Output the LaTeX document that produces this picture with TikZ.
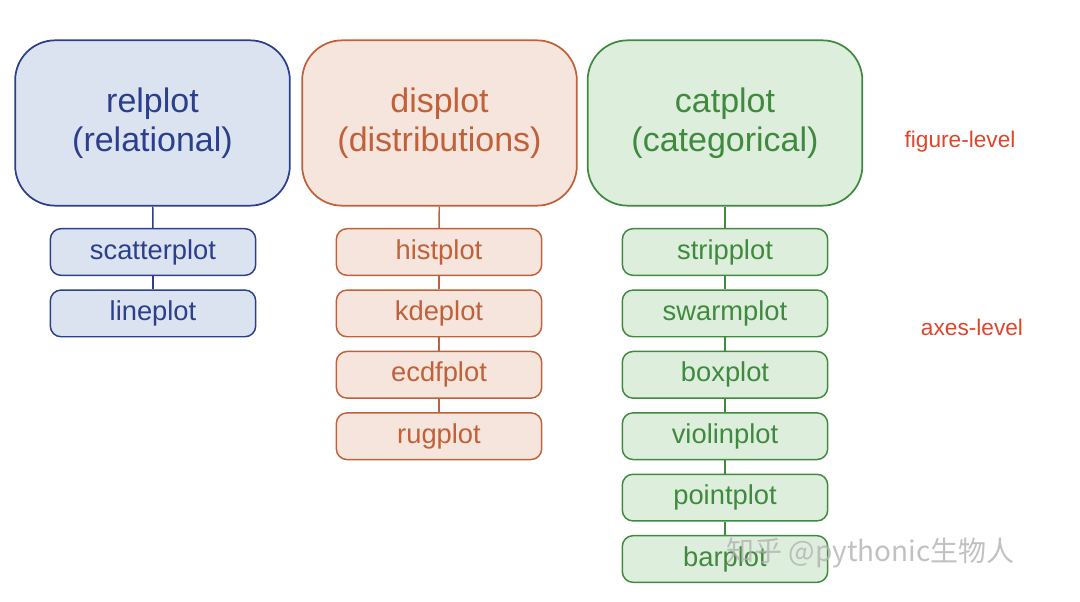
\documentclass[tikz,border=0pt]{standalone}
\usepackage{fontspec}
\setmainfont{Liberation Sans}
\newfontfamily\cjk{Noto Sans CJK SC}
\definecolor{bD}{HTML}{2B3F8C}\definecolor{bF}{HTML}{DCE3F0}
\definecolor{oD}{HTML}{C0613A}\definecolor{oF}{HTML}{F6E5DC}
\definecolor{gD}{HTML}{3F8A3F}\definecolor{gF}{HTML}{DEEEDC}
\definecolor{lab}{HTML}{E0442C}
\begin{document}
\begin{tikzpicture}[x=0.75pt,y=-0.75pt,
 big/.style={draw=#1D,fill=#1F,text=#1D,line width=1.3pt,rounded corners=30pt,minimum width=206pt,minimum height=124pt,align=center,font=\fontsize{25.5}{29}\selectfont},
 small/.style={draw=#1D,fill=#1F,text=#1D,line width=1.1pt,rounded corners=8pt,minimum width=154pt,minimum height=35pt,font=\fontsize{20.5}{23}\selectfont},
 conn/.style={draw=#1D,line width=1pt}]
\useasboundingbox (0,0) rectangle (1080,602);
\node[big=b] (B) at (152.5,123) {relplot\\(relational)};
\node[big=o] (O) at (439.5,123) {displot\\(distributions)};
\node[big=g] (G) at (725,123) {catplot\\(categorical)};
\foreach \c/\x/\lst in {b/153/{scatterplot,lineplot},o/439/{histplot,kdeplot,ecdfplot,rugplot},g/725/{stripplot,swarmplot,boxplot,violinplot,pointplot,barplot}}{
 \foreach \t [count=\i] in \lst {
  \node[small=\c] (\c\i) at (\x,{252+61.4*(\i-1)}) {\t};
 }
}
\draw[conn=b] (B) -- (b1); \draw[conn=b] (b1) -- (b2);
\draw[conn=o] (O) -- (o1); \foreach \i/\j in {1/2,2/3,3/4}{\draw[conn=o] (o\i) -- (o\j);}
\draw[conn=g] (G) -- (g1); \foreach \i/\j in {1/2,2/3,3/4,4/5,5/6}{\draw[conn=g] (g\i) -- (g\j);}
\node[text=lab,font=\fontsize{17}{20}\selectfont] (fl) at (960,142) {figure-level};
\node[text=lab,font=\fontsize{17}{20}\selectfont] (al) at (972,327) {axes-level};
\node[text=gray!60,opacity=0.8,font=\cjk\fontsize{21}{24}\selectfont,anchor=west] (wm) at (722,553) {知乎 @pythonic生物人};
\end{tikzpicture}
\end{document}
